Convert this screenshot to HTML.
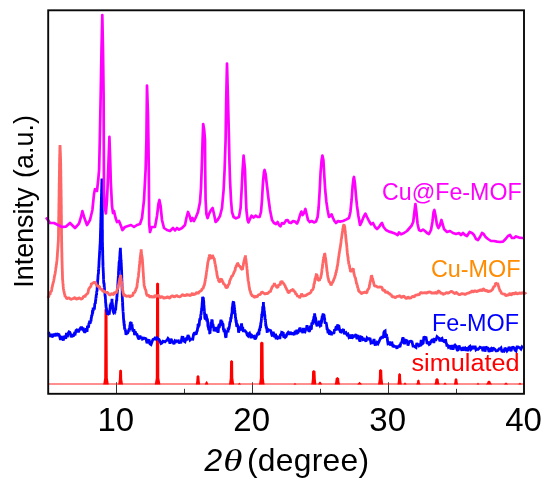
<!DOCTYPE html>
<html lang="en"><head><meta charset="utf-8"><title>XRD patterns</title>
<style>html,body{margin:0;padding:0;background:#fff}body{width:550px;height:486px;overflow:hidden}svg{display:block}</style></head>
<body>
<svg width="550" height="486" viewBox="0 0 550 486">
<rect width="550" height="486" fill="#fff"/>
<path d="M116.5 393.8 V382.3 M252.5 393.8 V382.3 M388.5 393.8 V382.3 M184.5 393.8 V388.8 M320.5 393.8 V388.8 M456.5 393.8 V388.8" stroke="#333" stroke-width="1" fill="none"/>
<path d="M48.2 384.0 H524.0" stroke="#ff2020" stroke-width="1.2" fill="none"/>
<path d="M103.2 384.4 L104.2 378.0 L104.5 309.2 L106.0 308.0 L107.5 309.2 L107.8 378.0 L108.8 384.4 Z" fill="#ff0000"/>
<path d="M118.2 384.4 L118.9 378.9 L119.2 370.6 L120.6 369.4 L122.0 370.6 L122.2 378.9 L123.0 384.4 Z" fill="#ff0000"/>
<path d="M154.8 384.4 L155.8 378.0 L156.1 283.6 L157.6 282.4 L159.1 283.6 L159.3 378.0 L160.4 384.4 Z" fill="#ff0000"/>
<path d="M195.8 384.4 L196.3 380.9 L196.6 376.2 L198.0 375.0 L199.4 376.2 L199.7 380.9 L200.2 384.4 Z" fill="#ff0000"/>
<path d="M204.8 384.4 L205.4 382.9 L205.6 382.2 L206.6 381.0 L207.6 382.2 L207.8 382.9 L208.4 384.4 Z" fill="#ff0000"/>
<path d="M229.0 384.4 L229.8 378.0 L230.1 361.2 L231.6 360.0 L233.1 361.2 L233.3 378.0 L234.2 384.4 Z" fill="#ff0000"/>
<path d="M237.9 384.4 L238.4 383.5 L238.6 383.8 L239.4 382.6 L240.2 383.8 L240.4 383.5 L240.9 384.4 Z" fill="#ff0000"/>
<path d="M259.0 384.4 L259.9 378.0 L260.1 342.8 L261.8 341.6 L263.5 342.8 L263.8 378.0 L264.6 384.4 Z" fill="#ff0000"/>
<path d="M293.6 384.4 L294.2 383.6 L294.3 384.0 L295.0 382.8 L295.7 384.0 L295.8 383.6 L296.4 384.4 Z" fill="#ff0000"/>
<path d="M311.2 384.4 L311.9 379.1 L312.1 371.2 L313.8 370.0 L315.5 371.2 L315.8 379.1 L316.4 384.4 Z" fill="#ff0000"/>
<path d="M318.0 384.4 L318.7 383.1 L318.9 382.6 L320.0 381.4 L321.1 382.6 L321.3 383.1 L322.0 384.4 Z" fill="#ff0000"/>
<path d="M334.8 384.4 L335.3 381.6 L335.7 378.2 L337.4 377.0 L339.1 378.2 L339.4 381.6 L340.0 384.4 Z" fill="#ff0000"/>
<path d="M357.2 384.4 L358.2 383.2 L358.4 383.0 L359.6 381.8 L360.8 383.0 L361.0 383.2 L362.0 384.4 Z" fill="#ff0000"/>
<path d="M378.0 384.4 L378.8 378.8 L379.0 370.2 L380.6 369.0 L382.2 370.2 L382.5 378.8 L383.2 384.4 Z" fill="#ff0000"/>
<path d="M397.4 384.4 L398.0 380.1 L398.2 374.2 L399.6 373.0 L401.0 374.2 L401.2 380.1 L401.8 384.4 Z" fill="#ff0000"/>
<path d="M403.4 384.4 L404.0 383.4 L404.1 383.5 L405.0 382.3 L405.9 383.5 L406.0 383.4 L406.6 384.4 Z" fill="#ff0000"/>
<path d="M416.2 384.4 L417.0 382.4 L417.2 380.6 L418.4 379.4 L419.6 380.6 L419.8 382.4 L420.6 384.4 Z" fill="#ff0000"/>
<path d="M434.4 384.4 L435.1 381.9 L435.4 379.2 L437.0 378.0 L438.6 379.2 L438.9 381.9 L439.6 384.4 Z" fill="#ff0000"/>
<path d="M443.4 384.4 L444.0 383.4 L444.1 383.5 L445.0 382.3 L445.9 383.5 L446.0 383.4 L446.6 384.4 Z" fill="#ff0000"/>
<path d="M453.9 384.4 L454.4 381.9 L454.7 379.2 L456.0 378.0 L457.3 379.2 L457.6 381.9 L458.1 384.4 Z" fill="#ff0000"/>
<path d="M476.6 384.4 L477.2 383.5 L477.3 383.8 L478.0 382.6 L478.7 383.8 L478.8 383.5 L479.4 384.4 Z" fill="#ff0000"/>
<path d="M486.0 384.4 L487.2 382.7 L487.5 381.6 L489.0 380.4 L490.5 381.6 L490.8 382.7 L492.0 384.4 Z" fill="#ff0000"/>
<path d="M504.0 384.4 L504.8 383.4 L505.0 383.4 L506.0 382.2 L507.0 383.4 L507.2 383.4 L508.0 384.4 Z" fill="#ff0000"/>
<path d="M518.4 384.4 L519.0 383.5 L519.1 383.8 L520.0 382.6 L520.9 383.8 L521.0 383.5 L521.6 384.4 Z" fill="#ff0000"/>
<path d="M48.0 334.0 L49.0 333.5 L50.0 336.9 L51.0 334.0 L52.0 337.2 L53.0 336.0 L54.0 333.9 L55.0 336.3 L56.0 333.3 L57.0 335.9 L58.0 334.2 L59.0 334.6 L59.8 337.1 L60.5 339.9 L61.2 336.3 L62.0 337.4 L62.7 339.1 L63.3 340.3 L64.0 337.4 L64.8 335.9 L65.7 338.8 L66.5 332.9 L67.3 337.1 L68.2 333.3 L69.0 331.9 L69.8 332.3 L70.5 333.9 L71.2 337.3 L72.0 334.1 L72.8 335.9 L73.6 335.6 L74.4 333.5 L75.2 333.9 L76.0 330.5 L76.8 329.8 L77.6 330.1 L78.4 332.2 L79.2 330.2 L80.0 328.9 L80.5 329.7 L81.0 328.2 L81.5 326.6 L82.0 328.7 L82.5 329.2 L83.0 327.5 L83.5 330.4 L84.0 331.1 L84.8 332.7 L85.5 331.3 L86.2 328.3 L87.0 331.8 L87.5 325.8 L88.0 326.5 L88.5 327.5 L89.0 323.0 L89.3 324.0 L89.7 320.6 L90.0 323.2 L90.3 322.8 L90.7 320.8 L91.0 321.4 L91.2 317.8 L91.3 318.5 L91.5 317.1 L91.7 316.1 L91.9 314.6 L92.1 315.3 L92.2 314.9 L92.4 311.9 L92.8 312.0 L93.2 307.5 L93.6 310.2 L94.0 308.8 L94.3 309.5 L94.5 307.6 L94.8 303.9 L95.1 303.4 L95.3 303.9 L95.6 299.9 L95.7 300.9 L95.8 299.0 L95.9 297.9 L96.0 296.8 L96.1 298.3 L96.2 295.2 L96.4 294.7 L96.5 294.2 L96.6 294.9 L96.7 291.4 L96.8 291.7 L96.9 291.1 L97.0 291.2 L97.1 289.9 L97.1 289.1 L97.2 286.7 L97.3 286.1 L97.4 285.1 L97.4 285.6 L97.5 284.8 L97.6 281.8 L97.7 281.0 L97.7 280.2 L97.8 279.3 L97.9 279.1 L97.9 278.4 L98.0 276.6 L98.1 275.1 L98.2 275.2 L98.2 274.2 L98.3 273.8 L98.4 273.9 L98.5 272.3 L98.5 270.9 L98.6 270.3 L98.7 269.5 L98.7 267.2 L98.8 268.1 L98.8 267.0 L98.9 266.3 L98.9 265.2 L99.0 263.4 L99.0 262.5 L99.1 261.0 L99.1 261.2 L99.2 259.1 L99.3 258.2 L99.3 257.6 L99.4 256.5 L99.4 256.0 L99.5 254.5 L99.5 253.5 L99.6 252.9 L99.6 251.9 L99.7 251.5 L99.7 249.9 L99.8 250.8 L99.8 249.3 L99.9 247.5 L99.9 246.8 L100.0 246.1 L100.0 245.2 L100.1 243.8 L100.1 244.3 L100.2 243.6 L100.2 241.8 L100.3 240.9 L100.3 239.4 L100.3 238.6 L100.4 238.0 L100.4 236.9 L100.4 236.7 L100.4 235.0 L100.5 233.9 L100.5 234.0 L100.5 232.6 L100.5 231.3 L100.6 230.8 L100.6 229.3 L100.6 228.9 L100.6 228.5 L100.7 227.5 L100.7 226.3 L100.7 224.9 L100.7 224.1 L100.8 222.9 L100.8 222.7 L100.8 221.5 L100.8 220.9 L100.9 219.4 L100.9 218.4 L100.9 218.1 L100.9 217.4 L101.0 216.3 L101.0 215.3 L101.0 214.4 L101.0 213.4 L101.1 212.0 L101.1 211.4 L101.1 210.3 L101.1 209.0 L101.2 208.1 L101.2 207.5 L101.2 206.6 L101.2 206.1 L101.2 205.5 L101.3 204.0 L101.3 203.6 L101.3 202.8 L101.3 201.8 L101.4 200.3 L101.4 199.3 L101.4 198.3 L101.4 197.4 L101.5 196.5 L101.5 196.0 L101.5 195.4 L101.5 194.5 L101.6 193.1 L101.6 192.4 L101.6 191.7 L101.6 189.9 L101.7 189.7 L101.7 189.1 L101.7 188.0 L101.7 187.1 L101.8 185.8 L101.8 184.5 L101.8 184.4 L101.8 182.9 L101.9 182.5 L101.9 181.8 L101.9 180.2 L101.9 179.3 L102.0 179.0 L102.0 178.9 L102.0 178.4 L102.0 179.3 L102.0 180.3 L102.0 181.5 L102.0 182.4 L102.0 183.1 L102.1 184.3 L102.1 185.3 L102.1 186.1 L102.1 186.9 L102.1 187.9 L102.1 188.6 L102.1 189.5 L102.1 190.9 L102.1 191.7 L102.1 192.5 L102.1 193.6 L102.2 194.4 L102.2 195.5 L102.2 196.4 L102.2 197.1 L102.2 198.0 L102.2 199.0 L102.2 199.9 L102.2 200.9 L102.2 201.8 L102.2 202.7 L102.2 203.5 L102.2 204.6 L102.2 205.4 L102.2 206.4 L102.2 207.3 L102.2 208.3 L102.2 209.1 L102.2 210.1 L102.3 210.9 L102.3 211.8 L102.3 212.7 L102.3 213.5 L102.3 214.5 L102.3 215.4 L102.3 216.2 L102.3 217.3 L102.3 218.1 L102.3 219.1 L102.3 220.1 L102.3 220.9 L102.3 221.8 L102.3 222.7 L102.3 223.6 L102.3 224.6 L102.3 225.4 L102.3 226.4 L102.3 227.2 L102.3 228.1 L102.3 229.2 L102.4 230.0 L102.4 230.9 L102.4 231.9 L102.4 232.8 L102.4 233.6 L102.4 234.6 L102.4 235.5 L102.4 236.4 L102.4 237.3 L102.4 238.2 L102.4 239.1 L102.4 240.0 L102.4 241.3 L102.4 242.0 L102.5 243.1 L102.5 244.1 L102.5 244.4 L102.5 245.6 L102.5 246.8 L102.6 247.7 L102.6 247.9 L102.6 248.8 L102.6 250.0 L102.7 250.6 L102.7 251.7 L102.7 252.4 L102.7 253.9 L102.7 254.9 L102.8 256.0 L102.8 256.2 L102.8 257.6 L102.8 258.5 L102.8 258.9 L102.9 260.5 L102.9 261.5 L102.9 261.6 L102.9 263.6 L103.0 263.6 L103.0 264.7 L103.0 266.4 L103.1 267.0 L103.1 266.9 L103.1 268.2 L103.2 269.2 L103.2 269.9 L103.2 270.5 L103.3 271.6 L103.3 273.1 L103.4 273.0 L103.4 274.7 L103.4 275.4 L103.5 275.7 L103.5 277.0 L103.5 278.4 L103.6 279.1 L103.6 279.0 L103.7 282.4 L103.8 282.7 L103.9 284.2 L104.0 282.5 L104.1 283.9 L104.2 284.1 L104.2 287.3 L104.3 286.7 L104.4 287.2 L104.5 289.0 L104.6 291.4 L104.7 292.1 L104.8 291.3 L104.9 292.0 L105.0 295.0 L105.0 295.0 L105.1 296.3 L105.2 295.5 L105.3 296.4 L105.4 299.1 L105.4 299.3 L105.5 299.2 L105.6 302.5 L105.7 302.6 L105.8 304.0 L105.8 303.0 L105.9 306.1 L106.0 304.5 L106.1 308.3 L106.3 307.7 L106.4 308.1 L106.6 309.9 L106.7 312.3 L106.8 310.6 L107.0 311.0 L107.1 313.4 L107.3 313.2 L107.4 313.6 L107.6 314.8 L107.7 314.4 L108.1 314.3 L108.5 313.9 L108.8 312.9 L109.2 314.5 L109.6 310.9 L109.8 311.1 L109.9 308.9 L110.1 308.7 L110.2 306.4 L110.4 306.5 L110.5 304.6 L110.7 306.8 L110.8 305.1 L111.0 302.5 L111.3 302.9 L111.7 304.4 L112.0 298.7 L112.1 303.1 L112.2 302.6 L112.4 303.7 L112.5 305.8 L112.6 305.1 L112.7 306.4 L112.8 308.0 L113.0 309.9 L113.1 308.5 L113.2 311.4 L113.4 312.0 L113.7 312.7 L113.9 312.5 L114.2 313.3 L114.4 312.4 L114.6 312.5 L114.7 311.4 L114.9 313.3 L115.0 310.4 L115.2 309.1 L115.4 307.8 L115.5 310.1 L115.7 309.4 L115.8 307.6 L116.0 305.2 L116.1 304.3 L116.2 303.5 L116.3 303.1 L116.4 301.2 L116.5 301.1 L116.6 299.6 L116.7 300.8 L116.8 299.9 L116.8 297.7 L116.9 295.8 L117.0 297.1 L117.1 294.1 L117.2 293.3 L117.3 291.3 L117.4 291.5 L117.5 290.9 L117.6 290.0 L117.6 288.5 L117.7 288.2 L117.8 286.2 L117.8 285.8 L117.8 284.5 L117.9 284.2 L117.9 282.6 L118.0 281.6 L118.0 281.3 L118.1 280.2 L118.1 280.0 L118.2 278.9 L118.2 278.4 L118.3 277.3 L118.3 276.5 L118.4 275.9 L118.5 274.0 L118.5 272.9 L118.5 273.3 L118.6 270.7 L118.7 270.9 L118.7 269.9 L118.8 267.7 L118.8 268.4 L118.8 267.6 L118.9 266.1 L119.0 265.4 L119.0 264.8 L119.1 262.0 L119.2 262.2 L119.3 261.2 L119.4 261.3 L119.5 260.3 L119.6 259.4 L119.7 257.7 L119.7 257.7 L119.8 256.2 L119.9 255.3 L120.0 252.9 L120.1 251.4 L120.2 250.7 L120.3 250.5 L120.4 247.7 L120.5 251.6 L120.5 251.9 L120.6 253.0 L120.6 253.9 L120.7 254.9 L120.7 255.4 L120.8 255.3 L120.8 257.9 L120.9 258.7 L120.9 259.1 L121.0 260.1 L121.1 261.3 L121.1 260.9 L121.2 263.2 L121.2 263.1 L121.3 263.6 L121.3 265.0 L121.4 266.9 L121.4 266.6 L121.5 268.7 L121.5 270.1 L121.6 270.0 L121.6 270.8 L121.6 271.8 L121.7 272.9 L121.7 273.9 L121.7 274.7 L121.7 275.6 L121.8 275.9 L121.8 276.9 L121.8 277.9 L121.8 279.4 L121.9 279.8 L121.9 281.0 L121.9 281.3 L121.9 282.2 L122.0 283.4 L122.0 284.7 L122.0 285.7 L122.0 286.6 L122.1 287.0 L122.1 288.2 L122.1 289.1 L122.1 290.0 L122.2 290.5 L122.2 292.3 L122.2 292.4 L122.2 294.2 L122.3 295.0 L122.3 294.9 L122.3 296.3 L122.3 297.6 L122.4 298.7 L122.4 299.0 L122.4 299.6 L122.5 300.3 L122.5 302.8 L122.6 302.1 L122.6 303.8 L122.7 303.8 L122.7 305.5 L122.8 307.3 L122.8 306.5 L122.9 308.9 L122.9 309.1 L123.0 310.8 L123.1 311.3 L123.1 311.2 L123.2 313.6 L123.2 313.6 L123.3 313.5 L123.3 314.4 L123.4 316.3 L123.4 317.2 L123.5 317.8 L123.5 318.3 L123.6 319.5 L123.7 320.2 L123.9 323.1 L124.0 320.9 L124.1 324.6 L124.2 325.8 L124.4 324.0 L124.5 328.0 L124.6 328.1 L124.7 329.7 L124.9 328.3 L125.0 329.3 L125.5 330.4 L126.0 334.9 L126.5 333.5 L127.0 333.2 L127.7 332.9 L128.3 331.4 L129.0 329.4 L129.2 329.4 L129.3 331.5 L129.5 328.2 L129.7 330.0 L129.8 326.2 L130.0 325.3 L130.2 325.3 L130.3 323.0 L130.5 322.8 L130.7 324.3 L130.8 323.1 L131.0 322.3 L131.2 322.0 L131.3 324.2 L131.5 325.2 L131.7 324.5 L131.9 326.1 L132.1 324.2 L132.2 328.1 L132.4 327.7 L132.8 330.5 L133.2 330.8 L133.6 329.8 L134.0 329.4 L134.6 335.2 L135.2 331.2 L135.8 333.9 L136.4 333.9 L137.0 334.3 L138.0 337.4 L139.0 339.3 L140.0 335.6 L140.8 338.5 L141.6 337.0 L142.4 339.1 L143.2 338.8 L144.0 338.1 L145.0 338.3 L146.0 338.8 L147.0 343.1 L148.0 341.0 L149.0 339.6 L150.0 343.9 L151.0 344.6 L152.0 341.7 L153.0 339.4 L154.0 339.2 L155.0 338.1 L156.0 339.1 L157.0 337.9 L158.0 339.0 L159.0 339.3 L160.0 341.4 L161.0 343.5 L162.0 342.9 L163.0 341.2 L164.0 341.5 L165.0 341.9 L166.0 340.8 L167.0 340.3 L168.0 338.5 L169.0 339.7 L170.0 343.7 L171.0 338.8 L172.0 341.0 L173.0 342.3 L174.0 344.1 L175.0 340.9 L176.0 341.7 L176.8 340.9 L177.6 341.2 L178.4 340.9 L179.2 343.2 L180.0 342.0 L181.0 342.2 L182.0 337.2 L183.0 337.3 L184.0 341.2 L185.0 341.8 L186.0 338.8 L187.0 339.0 L188.0 335.1 L189.0 337.1 L190.0 340.0 L191.0 339.1 L192.0 339.1 L192.8 339.2 L193.5 334.5 L194.2 333.2 L195.0 333.0 L195.4 334.1 L195.8 334.1 L196.2 334.6 L196.6 332.3 L197.0 330.8 L197.3 330.6 L197.6 328.1 L197.9 327.7 L198.1 324.1 L198.4 327.3 L198.7 323.4 L199.0 326.2 L199.3 323.7 L199.5 321.0 L199.8 319.1 L200.1 318.7 L200.3 319.7 L200.6 318.9 L200.7 315.6 L200.8 314.5 L201.0 315.1 L201.1 314.3 L201.2 312.6 L201.3 311.0 L201.5 311.4 L201.6 308.4 L201.7 308.5 L201.8 308.1 L201.8 308.6 L201.9 306.7 L202.0 306.5 L202.1 304.4 L202.2 302.8 L202.3 301.9 L202.3 303.1 L202.4 301.4 L202.5 299.4 L202.6 296.9 L202.9 298.0 L203.2 298.0 L203.3 297.7 L203.4 298.1 L203.4 300.2 L203.5 301.8 L203.6 300.7 L203.7 301.1 L203.8 302.8 L203.8 304.0 L203.9 305.6 L204.0 305.2 L204.1 307.7 L204.1 308.4 L204.2 308.8 L204.3 309.0 L204.3 311.8 L204.4 311.1 L204.5 313.3 L204.5 312.8 L204.6 313.7 L204.7 316.0 L204.7 315.8 L204.8 318.3 L204.9 318.1 L204.9 318.3 L205.0 318.4 L205.2 318.6 L205.5 318.8 L205.8 319.2 L206.0 313.9 L206.2 316.5 L206.5 316.6 L206.8 321.3 L207.0 318.3 L207.2 318.9 L207.5 319.9 L207.7 322.5 L207.9 325.9 L208.2 326.8 L208.4 327.1 L208.7 329.5 L208.9 330.2 L209.2 328.1 L209.5 328.4 L209.7 333.2 L210.0 333.4 L210.2 329.2 L210.3 330.6 L210.4 328.5 L210.6 327.5 L210.8 326.3 L210.9 324.7 L211.0 323.1 L211.2 323.1 L211.4 322.3 L211.6 324.0 L211.8 319.3 L212.0 322.7 L212.2 319.8 L212.3 321.4 L212.5 324.3 L212.7 325.3 L212.8 324.7 L213.0 323.8 L213.3 326.9 L213.7 327.3 L214.1 331.3 L214.4 328.2 L215.2 328.7 L216.0 331.3 L216.7 326.9 L217.3 329.8 L218.0 332.8 L218.3 331.3 L218.5 326.7 L218.8 325.7 L219.1 324.8 L219.3 328.1 L219.6 323.7 L220.0 325.4 L220.3 325.2 L220.7 321.1 L221.0 319.7 L221.4 322.7 L221.7 321.6 L221.9 320.8 L222.2 324.1 L222.5 323.1 L222.7 323.9 L223.0 323.5 L223.3 328.3 L223.5 330.1 L223.8 329.7 L224.1 332.2 L224.3 328.6 L224.6 330.5 L225.1 332.9 L225.5 336.6 L226.0 337.6 L226.4 333.3 L226.8 331.6 L227.2 331.6 L227.6 331.0 L228.0 332.4 L228.2 327.5 L228.5 329.8 L228.8 328.6 L229.0 328.2 L229.2 327.0 L229.5 325.3 L229.8 323.0 L230.0 322.1 L230.2 321.3 L230.5 322.3 L230.7 318.0 L230.9 317.6 L231.1 319.2 L231.4 315.8 L231.6 314.2 L231.7 313.7 L231.8 314.3 L231.9 312.7 L232.0 313.8 L232.1 312.6 L232.1 312.0 L232.2 308.9 L232.3 307.5 L232.4 306.6 L232.5 306.9 L232.6 306.7 L232.7 304.8 L232.9 303.0 L233.0 302.7 L233.1 302.4 L233.3 301.6 L233.4 301.4 L233.5 302.2 L233.7 302.6 L233.8 301.7 L233.9 305.2 L234.0 304.3 L234.2 306.2 L234.3 306.6 L234.4 308.8 L234.5 307.9 L234.6 309.0 L234.7 309.9 L234.8 310.5 L234.9 313.9 L235.1 313.7 L235.2 313.8 L235.3 314.9 L235.4 317.9 L235.5 317.1 L235.6 317.0 L235.8 320.2 L235.9 320.4 L236.1 322.7 L236.2 319.9 L236.4 322.3 L236.5 324.7 L236.7 325.6 L236.8 326.8 L237.0 323.6 L237.4 325.8 L237.8 325.8 L238.2 327.2 L238.6 332.7 L239.3 329.5 L240.0 330.5 L240.5 326.3 L240.9 328.1 L241.4 324.7 L241.7 324.7 L242.0 328.5 L242.4 330.4 L242.7 326.9 L243.0 330.6 L243.5 331.4 L244.0 329.9 L244.5 331.5 L245.0 330.9 L245.8 331.8 L246.5 332.6 L247.2 335.1 L248.0 335.9 L248.8 333.8 L249.5 333.2 L250.2 335.5 L251.0 338.0 L252.0 335.5 L253.0 336.6 L254.0 336.3 L255.0 339.4 L256.0 337.6 L257.0 334.5 L257.5 333.7 L258.0 334.4 L258.5 334.3 L259.0 333.8 L259.2 330.1 L259.5 329.4 L259.7 330.9 L259.9 328.6 L260.1 327.0 L260.4 326.1 L260.6 327.9 L260.7 324.4 L260.8 324.4 L260.9 322.8 L261.0 322.0 L261.1 322.6 L261.2 322.1 L261.4 319.1 L261.5 317.6 L261.6 318.5 L261.7 315.8 L261.8 314.2 L261.9 316.3 L262.0 313.7 L262.1 314.3 L262.3 311.7 L262.4 312.6 L262.6 310.0 L262.7 307.9 L262.8 306.4 L263.0 307.5 L263.1 306.9 L263.3 306.9 L263.4 302.0 L263.5 305.8 L263.6 305.9 L263.8 307.3 L263.9 307.0 L264.0 308.4 L264.1 310.2 L264.2 312.6 L264.4 310.7 L264.5 313.0 L264.6 315.0 L264.7 316.5 L264.8 314.8 L264.9 315.5 L265.0 319.2 L265.1 320.2 L265.2 319.5 L265.4 319.0 L265.5 322.8 L265.6 321.9 L265.7 324.6 L265.8 324.6 L265.9 326.2 L266.0 324.5 L266.3 328.4 L266.5 326.6 L266.8 328.5 L267.1 331.7 L267.3 332.7 L267.6 330.2 L268.3 329.7 L268.9 330.1 L269.6 330.1 L270.1 330.3 L270.5 329.8 L271.0 331.5 L271.8 334.8 L272.5 336.3 L273.2 331.8 L274.0 335.4 L274.8 337.2 L275.5 333.8 L276.2 339.2 L277.0 335.8 L278.0 338.2 L279.0 337.6 L280.0 337.7 L280.4 334.9 L280.8 334.5 L281.2 334.5 L281.6 332.6 L282.0 332.9 L282.4 332.7 L282.8 333.6 L283.2 332.2 L283.6 336.7 L284.0 336.9 L284.8 334.7 L285.5 337.0 L286.2 336.4 L287.0 333.8 L288.0 332.5 L289.0 334.5 L290.0 332.7 L291.0 332.8 L292.0 334.6 L293.0 332.6 L293.8 334.2 L294.5 334.1 L295.2 330.8 L296.0 333.8 L296.8 329.8 L297.5 332.9 L298.2 332.4 L299.0 330.1 L300.0 327.7 L301.0 330.7 L302.0 330.3 L302.8 333.1 L303.5 327.9 L304.2 331.6 L305.0 331.9 L305.7 329.7 L306.3 329.5 L307.0 325.2 L307.7 330.5 L308.3 328.3 L309.0 331.6 L309.7 330.7 L310.3 325.7 L311.0 328.7 L311.4 328.5 L311.8 322.5 L312.2 323.1 L312.6 324.5 L313.0 320.2 L313.2 322.9 L313.5 318.9 L313.7 320.5 L313.9 316.3 L314.1 317.0 L314.4 318.0 L314.6 313.3 L314.8 314.9 L315.0 317.0 L315.2 317.2 L315.4 316.9 L315.6 318.6 L315.8 319.5 L316.0 324.5 L316.5 324.0 L317.1 326.3 L317.6 323.1 L318.3 325.7 L319.0 320.8 L319.5 324.2 L320.1 325.8 L320.6 325.2 L320.8 326.7 L320.9 324.5 L321.1 323.7 L321.2 324.0 L321.4 319.9 L321.5 322.7 L321.7 320.3 L321.8 318.4 L322.0 319.4 L322.2 315.9 L322.5 318.7 L322.7 315.8 L323.0 313.8 L323.2 315.1 L323.4 314.2 L323.7 313.8 L323.9 317.5 L324.1 314.9 L324.4 319.7 L324.6 317.8 L324.8 320.7 L325.1 323.3 L325.3 322.4 L325.5 323.8 L325.8 323.1 L326.0 322.5 L326.3 323.5 L326.6 325.1 L327.0 328.6 L327.3 328.6 L327.6 330.1 L328.1 333.3 L328.6 329.9 L329.1 331.4 L329.6 334.9 L330.3 331.9 L330.9 332.4 L331.6 335.2 L332.1 333.0 L332.6 333.7 L333.1 332.2 L333.6 333.5 L334.1 332.5 L334.6 329.3 L335.1 330.7 L335.6 328.9 L336.3 326.2 L336.9 330.2 L337.6 325.5 L338.3 325.6 L338.9 326.0 L339.6 329.8 L340.4 331.8 L341.2 332.0 L342.0 330.4 L342.8 330.1 L343.5 329.2 L344.2 333.3 L345.0 333.4 L346.0 332.6 L347.0 334.8 L348.0 334.2 L349.0 337.5 L349.8 336.9 L350.5 334.5 L351.2 338.8 L352.0 334.4 L353.0 337.2 L354.0 336.5 L355.0 335.5 L356.0 334.4 L357.0 339.1 L358.0 335.2 L359.0 338.8 L360.0 341.6 L361.0 336.9 L362.0 337.3 L363.0 339.6 L364.0 339.0 L365.0 340.1 L366.0 341.3 L367.0 337.9 L368.0 338.9 L369.0 339.1 L370.0 337.9 L371.0 343.0 L372.0 342.6 L373.0 342.7 L374.0 339.1 L375.0 344.5 L376.0 344.4 L377.0 342.5 L378.0 343.7 L379.0 341.7 L379.8 339.7 L380.5 338.2 L381.2 338.2 L382.0 336.3 L382.3 337.1 L382.6 338.3 L383.0 337.1 L383.3 336.9 L383.6 335.1 L383.9 331.8 L384.1 332.3 L384.4 330.7 L384.6 331.7 L384.8 331.1 L385.1 330.9 L385.3 333.7 L385.5 336.2 L385.8 333.6 L386.0 338.0 L386.4 334.2 L386.8 336.6 L387.2 337.5 L387.6 341.4 L388.0 343.6 L388.8 343.2 L389.5 341.5 L390.2 345.5 L391.0 343.0 L392.0 342.8 L393.0 347.0 L394.0 345.8 L395.0 346.4 L396.0 346.5 L397.0 348.5 L398.0 345.8 L398.8 347.2 L399.5 345.6 L400.2 345.8 L401.0 342.6 L401.5 343.3 L402.0 341.4 L402.5 338.9 L403.0 337.3 L403.5 340.7 L404.0 338.6 L404.5 344.4 L405.0 340.9 L406.0 340.3 L407.0 340.7 L408.0 345.5 L409.0 342.1 L410.0 341.4 L411.0 341.3 L412.0 341.8 L413.0 346.1 L414.0 346.1 L415.0 346.8 L416.0 347.4 L416.8 343.0 L417.5 345.5 L418.2 343.7 L419.0 345.8 L419.8 345.4 L420.5 345.3 L421.2 340.0 L422.0 344.1 L422.6 343.7 L423.2 343.1 L423.8 337.5 L424.4 337.3 L425.3 337.4 L426.1 337.6 L427.0 343.0 L427.8 343.3 L428.5 342.8 L429.2 344.4 L430.0 343.8 L431.0 341.4 L432.0 340.0 L433.0 339.7 L433.8 343.0 L434.5 339.3 L435.2 339.5 L436.0 339.6 L437.0 336.7 L438.0 337.6 L439.0 338.2 L440.0 341.3 L441.0 338.9 L442.0 338.3 L443.0 341.7 L443.7 339.7 L444.3 342.4 L445.0 341.7 L445.5 339.3 L446.0 342.5 L446.5 343.6 L447.0 346.6 L447.8 344.6 L448.5 347.2 L449.2 346.7 L450.0 345.4 L451.0 349.4 L452.0 345.1 L453.0 349.6 L454.0 346.1 L455.0 345.1 L456.0 346.3 L457.0 349.5 L458.0 350.8 L459.0 345.4 L460.0 348.4 L461.0 348.7 L462.0 350.7 L463.0 347.2 L464.0 349.0 L465.0 348.1 L466.0 350.9 L467.0 347.4 L468.0 351.1 L469.0 347.0 L470.0 346.3 L471.0 349.3 L472.0 348.2 L473.0 346.0 L474.0 349.2 L475.0 345.8 L476.0 349.7 L477.0 348.9 L478.0 349.3 L479.0 348.5 L480.0 347.2 L481.0 347.6 L482.0 347.8 L483.0 351.0 L484.0 346.6 L485.0 351.6 L486.0 346.8 L487.0 347.9 L488.0 348.2 L489.0 351.9 L490.0 349.6 L491.0 348.7 L492.0 351.5 L493.0 347.6 L494.0 348.8 L495.0 349.3 L496.0 350.8 L497.0 350.9 L498.0 350.4 L499.0 348.8 L500.0 348.8 L501.0 347.9 L502.0 352.0 L503.0 350.8 L504.0 351.2 L505.0 347.8 L506.0 349.2 L507.0 351.0 L508.0 349.8 L509.0 347.0 L510.0 348.8 L511.0 351.2 L512.0 347.5 L513.0 347.2 L514.0 347.8 L515.0 350.2 L516.0 351.0 L517.0 347.0 L518.0 347.0 L519.0 347.5 L520.0 348.0 L521.0 349.1 L522.0 347.0 L523.0 348.0" stroke="#0000ff" stroke-width="2.8" fill="none" stroke-linejoin="miter" stroke-miterlimit="2" stroke-linecap="butt"/>
<path d="M48.0 296.2 L48.5 297.4 L49.0 295.9 L49.5 293.5 L50.0 294.8 L50.5 291.8 L51.0 291.7 L51.2 292.1 L51.4 290.8 L51.7 289.8 L51.9 288.3 L52.1 286.9 L52.3 287.0 L52.6 284.9 L52.8 284.3 L53.0 283.8 L53.2 282.2 L53.4 282.0 L53.5 281.8 L53.7 280.7 L53.9 279.5 L54.1 278.8 L54.3 277.6 L54.5 276.0 L54.6 276.0 L54.8 274.7 L55.0 274.4 L55.1 273.7 L55.3 272.0 L55.4 271.3 L55.5 270.7 L55.7 269.2 L55.8 268.0 L55.9 267.8 L56.1 267.2 L56.2 266.0 L56.3 265.0 L56.5 264.3 L56.6 263.1 L56.7 262.1 L56.9 260.9 L57.0 259.7 L57.1 259.2 L57.1 257.8 L57.2 257.2 L57.3 256.7 L57.3 255.7 L57.4 254.7 L57.4 253.4 L57.5 252.6 L57.6 251.8 L57.6 251.0 L57.7 249.9 L57.8 249.3 L57.8 248.6 L57.9 246.9 L58.0 246.5 L58.0 245.7 L58.1 244.4 L58.1 243.6 L58.2 243.2 L58.3 241.3 L58.3 241.0 L58.4 239.8 L58.4 239.2 L58.4 238.3 L58.4 237.3 L58.5 236.2 L58.5 235.5 L58.5 234.6 L58.5 233.7 L58.5 232.7 L58.5 231.9 L58.5 231.0 L58.5 230.0 L58.6 229.1 L58.6 228.3 L58.6 227.2 L58.6 226.4 L58.6 225.4 L58.6 224.6 L58.6 223.5 L58.7 222.9 L58.7 221.8 L58.7 220.8 L58.7 219.9 L58.7 219.1 L58.7 218.0 L58.7 217.2 L58.8 216.3 L58.8 215.5 L58.8 214.5 L58.8 213.6 L58.8 212.6 L58.8 211.9 L58.8 211.0 L58.9 210.0 L58.9 209.0 L58.9 208.3 L58.9 207.2 L58.9 206.3 L58.9 205.3 L58.9 204.6 L58.9 203.7 L59.0 202.8 L59.0 201.8 L59.0 200.9 L59.0 199.9 L59.0 199.2 L59.0 198.1 L59.0 197.3 L59.1 196.5 L59.1 195.5 L59.1 194.5 L59.1 193.6 L59.1 192.7 L59.1 191.7 L59.1 191.0 L59.1 190.0 L59.2 189.2 L59.2 188.1 L59.2 187.2 L59.2 186.3 L59.2 185.4 L59.2 184.5 L59.2 183.5 L59.3 182.8 L59.3 181.8 L59.3 180.8 L59.3 179.9 L59.3 179.1 L59.3 178.2 L59.3 177.3 L59.4 176.4 L59.4 175.4 L59.4 174.7 L59.4 173.7 L59.4 172.6 L59.4 171.9 L59.4 171.0 L59.5 170.1 L59.5 169.0 L59.5 168.3 L59.5 167.3 L59.5 166.2 L59.5 165.3 L59.5 164.7 L59.5 163.7 L59.6 162.7 L59.6 161.7 L59.6 160.8 L59.6 159.9 L59.6 159.2 L59.6 158.1 L59.7 157.1 L59.7 156.5 L59.7 155.5 L59.7 154.3 L59.8 153.8 L59.8 152.7 L59.8 151.9 L59.8 150.9 L59.9 150.1 L59.9 149.1 L59.9 148.2 L59.9 147.0 L60.0 146.3 L60.0 145.3 L60.0 145.0 L60.0 145.3 L60.1 146.5 L60.1 147.2 L60.1 147.9 L60.2 148.8 L60.2 149.7 L60.2 150.8 L60.3 151.5 L60.3 152.6 L60.4 153.3 L60.4 154.5 L60.4 155.4 L60.5 156.4 L60.5 157.5 L60.5 157.8 L60.6 159.3 L60.6 160.0 L60.6 160.9 L60.6 161.9 L60.6 162.8 L60.7 163.6 L60.7 164.5 L60.7 165.6 L60.7 166.2 L60.7 167.3 L60.7 168.2 L60.7 169.0 L60.8 170.0 L60.8 171.0 L60.8 171.9 L60.8 172.7 L60.8 173.8 L60.8 174.5 L60.8 175.5 L60.8 176.5 L60.9 177.1 L60.9 178.2 L60.9 179.1 L60.9 180.0 L60.9 181.0 L60.9 181.8 L60.9 182.7 L61.0 183.6 L61.0 184.6 L61.0 185.4 L61.0 186.3 L61.0 187.3 L61.0 188.2 L61.0 189.2 L61.1 189.9 L61.1 191.0 L61.1 191.8 L61.1 192.7 L61.1 193.6 L61.1 194.5 L61.1 195.6 L61.1 196.4 L61.2 197.4 L61.2 198.1 L61.2 199.0 L61.2 200.0 L61.2 200.9 L61.2 201.8 L61.2 202.8 L61.2 203.5 L61.2 204.6 L61.3 205.5 L61.3 206.4 L61.3 207.2 L61.3 208.1 L61.3 209.0 L61.3 209.9 L61.3 211.0 L61.3 211.8 L61.3 212.8 L61.3 213.7 L61.3 214.6 L61.4 215.5 L61.4 216.4 L61.4 217.3 L61.4 218.2 L61.4 219.1 L61.4 220.0 L61.4 220.9 L61.4 221.9 L61.4 222.7 L61.4 223.7 L61.4 224.5 L61.5 225.4 L61.5 226.3 L61.5 227.3 L61.5 228.3 L61.5 229.1 L61.5 230.0 L61.5 231.0 L61.5 231.9 L61.5 232.7 L61.5 233.6 L61.5 234.5 L61.6 235.4 L61.6 236.3 L61.6 237.3 L61.6 238.2 L61.6 239.2 L61.6 239.9 L61.6 240.9 L61.6 241.6 L61.7 242.6 L61.7 243.8 L61.7 244.6 L61.7 245.6 L61.7 246.3 L61.7 247.1 L61.8 248.1 L61.8 249.1 L61.8 250.2 L61.8 251.1 L61.8 251.8 L61.9 252.7 L61.9 253.5 L61.9 254.6 L61.9 255.3 L61.9 256.2 L61.9 257.1 L62.0 258.0 L62.0 259.2 L62.0 259.8 L62.0 261.2 L62.1 261.6 L62.1 262.9 L62.1 263.4 L62.1 264.3 L62.2 265.6 L62.2 266.2 L62.2 267.4 L62.2 268.0 L62.3 268.9 L62.3 270.1 L62.3 271.0 L62.4 272.0 L62.4 272.8 L62.4 273.4 L62.4 274.6 L62.5 275.6 L62.5 276.3 L62.5 277.5 L62.5 278.1 L62.6 279.3 L62.6 280.2 L62.7 280.3 L62.8 281.2 L62.9 282.9 L63.0 284.1 L63.1 284.0 L63.1 285.2 L63.2 286.7 L63.3 286.8 L63.4 288.7 L63.5 289.1 L63.6 289.2 L63.8 290.7 L64.1 292.2 L64.3 292.9 L64.5 294.4 L64.8 294.3 L65.0 296.7 L65.7 296.5 L66.3 298.0 L67.0 298.7 L68.0 298.1 L69.0 297.8 L70.0 298.7 L71.0 299.3 L72.0 299.0 L73.0 298.6 L74.0 298.1 L75.0 297.4 L76.0 299.5 L77.0 298.7 L78.0 298.8 L79.0 297.6 L80.0 298.3 L81.0 299.2 L82.0 298.8 L82.8 297.8 L83.5 296.5 L84.2 296.3 L85.0 297.0 L85.6 294.9 L86.2 294.9 L86.8 293.9 L87.4 293.8 L88.0 292.8 L88.4 290.5 L88.8 288.8 L89.2 288.4 L89.6 287.8 L90.0 287.2 L90.5 286.8 L91.0 286.0 L91.5 282.9 L92.0 283.8 L92.8 283.1 L93.6 282.5 L94.6 282.5 L95.6 282.4 L96.2 284.6 L96.8 285.3 L97.4 285.7 L98.0 287.0 L98.8 286.4 L99.5 286.5 L100.2 288.4 L101.0 289.7 L101.8 288.8 L102.5 290.6 L103.2 291.6 L104.0 290.3 L104.8 291.8 L105.5 292.4 L106.2 292.4 L107.0 292.3 L108.0 292.9 L109.0 294.6 L110.0 295.1 L111.0 294.2 L112.0 293.1 L113.0 294.8 L113.8 294.2 L114.5 292.3 L115.2 292.7 L116.0 293.0 L116.5 292.0 L117.0 290.1 L117.5 288.9 L118.0 288.2 L118.2 286.5 L118.4 285.6 L118.5 284.7 L118.7 284.8 L118.9 283.3 L119.1 282.8 L119.2 281.6 L119.4 280.9 L119.6 279.3 L119.8 278.0 L120.1 279.1 L120.3 276.7 L120.6 275.0 L120.8 277.2 L120.9 278.5 L121.1 278.4 L121.3 280.2 L121.4 280.7 L121.6 282.0 L121.7 282.3 L121.8 283.3 L122.0 285.7 L122.1 286.6 L122.2 287.0 L122.3 288.1 L122.5 288.6 L122.6 290.5 L122.9 290.8 L123.2 293.0 L123.4 293.6 L123.7 294.7 L124.0 296.2 L124.7 295.1 L125.3 295.2 L126.0 296.3 L127.0 296.2 L128.0 296.0 L129.0 295.9 L129.8 296.6 L130.5 296.9 L131.2 295.4 L132.0 296.1 L132.8 295.3 L133.5 292.4 L134.2 293.0 L135.0 291.7 L135.3 290.2 L135.6 291.4 L135.9 288.9 L136.1 288.7 L136.4 288.0 L136.7 287.9 L137.0 286.3 L137.1 284.9 L137.2 284.1 L137.4 282.7 L137.5 283.0 L137.6 282.2 L137.7 280.0 L137.9 278.8 L138.0 278.2 L138.1 277.5 L138.2 277.4 L138.4 276.5 L138.5 275.4 L138.6 273.3 L138.7 273.4 L138.8 272.4 L138.9 271.4 L139.0 270.9 L139.1 268.7 L139.2 267.9 L139.3 267.8 L139.3 267.1 L139.4 265.8 L139.5 264.4 L139.6 263.9 L139.7 263.1 L139.8 261.3 L139.9 260.7 L140.0 259.7 L140.1 258.5 L140.2 258.1 L140.4 256.6 L140.5 255.8 L140.6 254.7 L140.7 254.6 L140.8 252.6 L141.0 252.7 L141.1 251.0 L141.2 249.3 L141.3 252.1 L141.4 252.0 L141.6 254.0 L141.7 254.9 L141.8 255.8 L141.9 255.7 L142.0 257.1 L142.2 257.5 L142.3 259.7 L142.4 260.4 L142.5 261.1 L142.5 261.8 L142.6 262.6 L142.6 264.0 L142.7 264.6 L142.8 265.7 L142.8 266.1 L142.9 267.1 L143.0 267.9 L143.0 269.4 L143.1 270.2 L143.1 270.7 L143.2 272.4 L143.3 272.7 L143.3 273.8 L143.4 274.4 L143.4 275.5 L143.5 277.0 L143.6 277.4 L143.6 278.1 L143.7 279.4 L143.8 280.1 L143.8 281.6 L143.9 281.8 L143.9 283.6 L144.0 283.3 L144.2 285.8 L144.4 286.3 L144.6 286.4 L144.8 288.0 L145.0 288.5 L145.4 289.4 L145.8 290.3 L146.1 291.7 L146.5 294.2 L147.0 295.2 L147.5 296.1 L148.0 295.0 L149.0 295.7 L150.0 297.5 L151.0 295.6 L152.0 297.6 L153.0 296.2 L154.0 297.7 L155.0 295.0 L156.0 296.8 L157.0 295.9 L158.0 295.6 L159.0 295.5 L160.0 297.8 L161.0 297.2 L162.0 296.5 L163.0 297.3 L164.0 298.7 L165.0 297.1 L166.0 298.2 L167.0 296.9 L168.0 296.9 L169.0 298.2 L170.0 297.9 L171.0 296.4 L172.0 295.9 L173.0 295.8 L174.0 297.0 L175.0 296.6 L176.0 295.9 L177.0 295.6 L178.0 296.5 L179.0 296.6 L180.0 296.8 L181.0 296.1 L182.0 295.0 L183.0 294.5 L184.0 296.1 L185.0 295.1 L186.0 295.8 L187.0 294.0 L188.0 295.8 L188.9 294.4 L189.8 295.5 L190.7 295.4 L191.6 294.4 L192.4 293.0 L193.3 295.1 L194.2 293.9 L195.1 294.7 L196.0 293.0 L197.0 292.4 L198.0 293.6 L199.0 292.1 L200.0 291.2 L200.8 290.9 L201.5 290.7 L202.2 288.5 L203.0 289.0 L203.2 288.0 L203.5 287.3 L203.8 285.5 L204.0 286.0 L204.2 285.3 L204.5 284.6 L204.8 282.5 L205.0 282.4 L205.1 280.9 L205.3 280.6 L205.4 278.5 L205.6 279.0 L205.7 278.2 L205.9 276.5 L206.0 275.7 L206.2 274.8 L206.3 273.9 L206.5 272.1 L206.6 272.8 L206.7 270.6 L206.9 269.7 L207.0 268.6 L207.1 268.0 L207.2 268.0 L207.4 265.8 L207.5 265.0 L207.6 265.0 L207.7 263.3 L207.9 262.1 L208.0 262.2 L208.2 261.2 L208.4 260.2 L208.6 259.7 L208.8 257.5 L209.0 258.2 L209.2 256.9 L209.4 254.5 L209.8 255.5 L210.2 257.3 L210.6 258.2 L211.0 258.4 L211.5 257.1 L211.9 256.8 L212.4 255.1 L213.2 257.2 L214.0 258.9 L214.2 258.2 L214.4 259.9 L214.5 261.1 L214.7 260.9 L214.9 263.1 L215.1 264.2 L215.2 264.0 L215.4 265.0 L215.6 266.6 L215.8 266.9 L215.9 267.6 L216.1 269.5 L216.2 270.1 L216.4 270.2 L216.5 270.9 L216.7 271.9 L216.8 273.0 L217.0 274.9 L217.2 275.6 L217.5 276.8 L217.7 277.6 L217.9 278.7 L218.2 278.1 L218.4 280.0 L219.2 281.6 L220.0 282.1 L220.8 279.4 L221.6 278.8 L221.9 280.3 L222.3 280.7 L222.7 282.1 L223.0 281.9 L223.5 283.6 L224.0 284.5 L224.5 284.1 L225.0 285.1 L226.0 287.7 L227.0 287.7 L227.5 287.1 L228.0 285.3 L228.5 284.8 L229.0 284.0 L229.4 283.0 L229.8 279.8 L230.2 280.4 L230.6 278.4 L231.0 278.4 L231.5 276.4 L231.9 276.1 L232.4 276.1 L233.2 274.3 L234.0 272.4 L234.3 272.0 L234.6 270.8 L235.0 271.0 L235.3 268.5 L235.6 267.5 L236.0 267.4 L236.3 265.1 L236.7 265.2 L237.0 265.1 L237.4 263.0 L237.9 263.4 L238.5 264.9 L239.0 266.1 L239.5 265.9 L240.0 266.6 L240.5 267.3 L241.0 268.5 L242.4 269.8 L242.6 268.6 L242.7 267.5 L242.9 266.3 L243.1 266.1 L243.3 265.6 L243.4 264.2 L243.6 263.1 L243.8 262.4 L244.1 260.6 L244.3 260.8 L244.5 259.4 L244.7 258.7 L244.9 258.0 L245.2 256.8 L245.4 255.5 L245.5 256.5 L245.6 257.4 L245.8 258.7 L245.9 259.4 L246.0 260.6 L246.1 260.6 L246.2 262.1 L246.4 263.8 L246.5 263.7 L246.6 265.1 L246.7 265.9 L246.8 266.6 L246.9 268.4 L247.0 268.5 L247.1 270.0 L247.2 270.2 L247.3 271.0 L247.3 273.0 L247.4 273.3 L247.5 273.8 L247.6 275.1 L247.7 276.1 L247.8 277.4 L247.9 277.6 L248.0 278.6 L248.1 280.7 L248.3 281.2 L248.4 281.1 L248.6 282.4 L248.7 283.3 L248.9 284.8 L249.0 285.6 L249.2 286.9 L249.3 287.7 L249.5 288.1 L249.6 289.5 L249.9 290.4 L250.2 291.3 L250.5 291.5 L250.7 293.1 L251.0 293.8 L251.3 295.1 L251.6 294.1 L252.4 296.6 L253.2 295.1 L254.0 297.7 L255.0 296.9 L256.0 296.3 L257.0 297.2 L257.9 295.5 L258.7 294.5 L259.6 294.7 L260.4 294.3 L261.2 292.9 L262.0 291.7 L263.0 292.6 L264.0 293.3 L265.0 294.2 L266.0 293.3 L267.0 293.7 L267.9 293.5 L268.7 292.4 L269.6 291.6 L270.1 291.9 L270.6 291.3 L271.0 289.6 L271.5 288.7 L272.0 287.2 L272.5 286.7 L273.0 285.5 L273.4 285.8 L273.9 285.0 L274.4 283.0 L275.0 285.7 L275.7 284.9 L276.4 286.8 L277.0 287.4 L277.9 287.2 L278.7 284.8 L279.6 284.8 L280.1 285.2 L280.6 282.2 L281.0 281.5 L281.5 282.0 L282.0 281.0 L282.6 282.8 L283.2 283.2 L283.8 283.3 L284.4 285.2 L284.8 285.0 L285.2 286.0 L285.6 287.5 L286.0 287.7 L286.4 288.6 L286.9 290.0 L287.4 290.2 L288.0 292.5 L288.5 292.6 L289.0 293.1 L289.7 291.2 L290.3 291.1 L291.0 290.4 L292.0 290.0 L293.0 289.2 L293.5 290.7 L294.0 291.7 L294.5 291.2 L295.0 291.9 L295.5 293.1 L296.0 294.7 L296.5 293.9 L297.0 295.1 L297.7 296.6 L298.3 295.8 L299.0 296.9 L299.6 297.9 L300.3 296.8 L301.0 295.3 L301.6 293.6 L302.8 296.0 L304.0 295.9 L304.8 295.7 L305.6 295.7 L306.4 295.0 L307.7 294.1 L309.0 293.7 L309.7 293.2 L310.3 292.9 L311.0 292.0 L311.5 290.5 L312.0 289.7 L312.5 290.1 L313.0 289.3 L313.2 287.7 L313.5 288.0 L313.7 286.3 L313.9 284.1 L314.2 283.8 L314.4 283.6 L314.6 281.6 L314.8 281.4 L315.0 279.0 L315.2 278.6 L315.4 278.7 L315.6 277.2 L315.9 276.4 L316.3 274.3 L316.6 274.0 L316.9 275.1 L317.2 275.5 L317.4 277.3 L317.7 278.1 L318.0 280.2 L318.7 280.2 L319.4 280.8 L319.8 279.1 L320.2 278.1 L320.6 278.6 L321.0 276.1 L321.1 275.4 L321.3 274.7 L321.4 274.3 L321.5 273.9 L321.6 272.6 L321.8 272.0 L321.9 269.9 L322.0 268.9 L322.1 269.3 L322.3 267.6 L322.4 267.3 L322.5 265.9 L322.6 264.7 L322.8 263.9 L322.9 262.8 L323.0 263.1 L323.1 261.7 L323.2 260.5 L323.4 259.7 L323.5 258.7 L323.6 257.2 L323.8 257.9 L324.0 256.3 L324.2 256.2 L324.4 254.2 L324.6 253.7 L324.8 253.8 L325.0 254.3 L325.2 257.0 L325.4 257.8 L325.6 257.7 L325.7 259.5 L325.8 260.3 L325.9 260.5 L326.0 261.8 L326.1 263.2 L326.2 263.5 L326.3 265.0 L326.4 265.0 L326.5 266.1 L326.6 267.5 L326.7 267.7 L326.8 268.7 L326.9 270.5 L327.0 270.8 L327.2 272.2 L327.3 272.2 L327.4 273.0 L327.5 274.2 L327.6 274.8 L327.8 276.9 L327.9 276.8 L328.0 278.1 L328.3 278.1 L328.6 280.1 L328.8 280.7 L329.1 281.8 L329.4 281.9 L330.2 282.9 L331.0 285.4 L331.8 283.4 L332.6 282.4 L333.1 281.2 L333.5 280.5 L333.9 279.3 L334.4 277.9 L334.7 278.4 L334.9 276.7 L335.2 275.3 L335.5 275.4 L335.7 273.1 L336.0 272.5 L336.2 272.8 L336.4 270.5 L336.5 270.2 L336.7 270.1 L336.9 269.1 L337.1 267.0 L337.2 266.5 L337.4 266.3 L337.6 264.8 L337.7 264.8 L337.9 262.7 L338.0 263.0 L338.1 261.4 L338.2 260.0 L338.4 259.5 L338.5 258.0 L338.6 258.1 L338.7 256.4 L338.9 256.6 L339.0 255.1 L339.1 253.9 L339.3 252.7 L339.4 252.5 L339.6 250.9 L339.7 251.1 L339.9 248.9 L340.0 248.7 L340.2 247.8 L340.3 246.4 L340.5 246.4 L340.6 244.8 L340.7 244.3 L340.9 243.3 L341.0 242.0 L341.1 241.2 L341.2 239.8 L341.4 239.0 L341.5 239.2 L341.6 237.4 L341.7 237.1 L341.9 235.3 L342.0 235.1 L342.1 233.9 L342.3 233.2 L342.4 232.0 L342.6 230.7 L342.7 230.2 L342.8 229.1 L343.0 228.1 L343.1 228.2 L343.3 226.5 L343.4 225.8 L343.7 225.5 L344.0 224.1 L344.1 225.0 L344.3 225.9 L344.4 225.6 L344.6 226.8 L344.8 227.3 L344.9 229.4 L345.1 230.3 L345.2 230.8 L345.3 231.8 L345.4 233.1 L345.5 234.0 L345.6 234.4 L345.7 236.1 L345.8 236.3 L345.8 237.6 L345.9 238.0 L346.0 238.8 L346.1 240.8 L346.2 241.5 L346.3 242.4 L346.4 242.4 L346.5 243.3 L346.6 244.4 L346.7 245.4 L346.8 246.4 L346.9 247.5 L347.0 247.9 L347.0 249.2 L347.1 250.6 L347.2 250.9 L347.3 252.7 L347.4 253.2 L347.5 254.4 L347.6 254.6 L347.7 255.8 L347.9 257.1 L348.0 257.5 L348.1 257.8 L348.2 260.1 L348.4 260.9 L348.5 261.0 L348.6 261.5 L348.7 263.8 L348.9 264.3 L349.0 264.1 L349.3 265.4 L349.6 266.1 L349.8 268.6 L350.1 268.4 L350.4 271.0 L351.0 271.6 L351.6 271.0 L352.0 271.5 L352.3 269.7 L352.6 269.6 L353.0 268.8 L353.2 268.6 L353.4 269.2 L353.6 271.9 L353.8 271.9 L354.0 273.9 L354.3 274.4 L354.5 275.5 L354.8 276.7 L355.1 277.3 L355.3 277.9 L355.6 278.1 L355.8 280.4 L356.1 280.9 L356.3 282.0 L356.5 283.9 L356.8 283.2 L357.0 285.6 L357.3 284.8 L357.6 287.2 L357.9 288.3 L358.1 287.9 L358.4 289.4 L358.7 291.2 L359.0 291.3 L359.5 291.9 L360.0 291.9 L360.5 292.1 L361.0 293.6 L362.0 293.4 L363.0 292.6 L364.0 292.5 L365.0 291.8 L366.0 292.9 L367.0 292.4 L367.5 290.3 L368.0 289.4 L368.5 289.0 L369.0 287.9 L369.2 287.8 L369.4 285.7 L369.6 284.6 L369.8 284.7 L370.0 282.3 L370.2 282.1 L370.4 280.7 L370.6 280.6 L370.8 279.1 L371.0 278.5 L371.2 276.4 L371.4 276.3 L371.6 275.2 L371.8 275.9 L372.1 277.6 L372.3 278.7 L372.6 278.2 L372.8 279.6 L373.0 280.7 L373.3 281.4 L373.5 282.1 L373.8 283.5 L374.0 284.2 L374.7 286.2 L375.3 286.2 L376.0 286.0 L377.0 286.7 L378.0 287.2 L379.0 287.1 L380.0 287.0 L381.0 287.1 L382.0 287.4 L382.8 290.4 L383.5 290.4 L384.2 289.4 L385.0 291.5 L385.8 292.7 L386.5 292.2 L387.2 291.5 L388.0 293.0 L388.8 293.4 L389.5 293.4 L390.2 294.9 L391.0 294.2 L392.0 296.8 L393.0 296.6 L394.0 296.9 L395.0 297.8 L396.0 297.2 L397.0 296.3 L398.0 296.4 L399.0 296.0 L400.0 295.6 L401.0 297.4 L402.0 297.4 L403.0 296.3 L404.0 296.2 L405.0 297.5 L406.0 298.3 L407.0 298.5 L408.0 296.6 L409.0 298.1 L410.0 298.2 L411.0 297.9 L412.0 296.7 L413.0 296.2 L414.0 297.3 L415.0 295.5 L416.0 295.1 L417.0 295.2 L418.0 294.4 L419.0 295.2 L420.0 293.3 L421.0 292.4 L422.0 293.2 L423.0 292.8 L424.0 292.8 L425.0 292.5 L426.0 293.0 L427.0 293.1 L428.0 292.0 L429.0 292.3 L430.0 291.8 L431.0 292.5 L432.0 293.6 L433.0 292.3 L434.0 293.7 L435.0 292.3 L436.0 292.9 L437.0 293.8 L438.0 291.3 L439.0 290.8 L439.8 292.3 L440.5 292.2 L441.2 294.1 L442.0 292.8 L443.0 294.4 L444.0 293.9 L445.0 293.7 L446.0 292.8 L447.0 292.5 L448.0 293.4 L449.0 292.7 L450.0 292.1 L451.0 291.5 L452.0 291.4 L453.0 292.4 L454.0 293.1 L455.0 293.7 L456.0 292.2 L457.0 293.0 L458.0 293.9 L459.0 294.7 L460.0 294.6 L461.0 294.0 L462.0 293.5 L463.0 293.8 L464.0 293.9 L465.0 294.7 L466.0 294.0 L467.0 293.4 L468.0 293.2 L469.0 293.1 L470.0 292.1 L471.0 292.5 L472.0 290.5 L473.0 291.9 L474.0 291.6 L475.0 290.6 L476.0 291.2 L477.0 292.0 L478.0 290.7 L479.0 290.9 L480.0 289.9 L481.0 289.9 L482.0 291.2 L483.0 288.9 L484.0 289.2 L485.0 290.8 L486.0 290.7 L487.0 290.2 L488.0 292.0 L489.0 291.1 L490.0 291.4 L491.0 290.8 L491.6 290.3 L492.3 289.7 L493.0 288.5 L493.6 287.0 L494.1 286.2 L494.6 287.0 L495.1 285.1 L495.6 283.0 L497.0 283.9 L497.5 283.4 L497.9 284.0 L498.4 286.1 L498.7 286.4 L499.0 288.0 L499.4 289.1 L499.7 289.4 L500.0 291.2 L500.6 290.9 L501.2 292.7 L501.8 293.8 L502.4 293.4 L503.3 294.3 L504.2 293.6 L505.1 294.7 L506.0 295.9 L507.0 294.9 L508.0 295.0 L509.0 294.9 L510.0 293.0 L511.0 295.1 L512.0 294.4 L513.0 292.7 L514.0 294.4 L515.0 293.2 L516.0 292.5 L517.0 294.3 L518.0 293.2 L519.0 293.8 L520.0 292.4 L521.0 294.1 L522.0 292.5 L523.0 293.0 L524.0 293.5 L525.0 292.7 L526.0 294.2" stroke="#ff6666" stroke-width="2.8" fill="none" stroke-linejoin="bevel" stroke-linecap="butt"/>
<path d="M46.6 218.4 L48.0 220.0 L50.0 223.0 L54.0 223.0 L58.0 225.0 L62.0 227.0 L66.0 226.6 L70.0 223.0 L72.0 225.0 L75.0 228.0 L79.0 223.6 L81.0 217.0 L82.4 211.0 L84.4 218.0 L87.0 225.0 L90.0 220.0 L92.4 210.0 L94.0 194.0 L95.0 189.0 L97.0 191.0 L98.4 178.0 L99.1 170.0 L99.8 140.0 L100.7 95.0 L101.5 50.0 L102.3 15.0 L103.0 50.0 L103.6 95.0 L103.8 140.0 L103.9 170.0 L104.0 190.0 L104.6 206.0 L105.9 213.5 L107.0 200.0 L107.8 182.0 L109.4 136.8 L110.2 160.0 L110.8 182.0 L112.0 206.0 L113.0 213.0 L114.0 211.0 L115.6 218.0 L117.0 222.0 L119.0 221.0 L121.0 226.0 L122.4 230.0 L125.0 227.0 L128.0 226.0 L131.0 225.0 L134.0 227.0 L137.0 225.0 L140.0 224.0 L142.0 218.0 L144.0 200.0 L145.6 170.0 L146.4 140.0 L147.0 85.6 L148.0 115.0 L148.4 140.0 L148.8 170.0 L149.0 200.0 L149.2 224.0 L150.0 232.0 L151.6 227.0 L155.0 227.0 L157.0 216.0 L158.4 204.0 L159.4 200.0 L160.6 206.0 L162.0 220.0 L164.0 228.0 L167.0 230.0 L170.0 231.0 L173.0 228.0 L175.0 230.4 L177.0 228.0 L179.0 229.6 L182.0 228.0 L185.0 225.0 L186.4 218.0 L188.0 212.0 L189.6 216.0 L191.0 221.0 L192.4 218.0 L194.0 221.0 L196.0 217.0 L198.0 212.0 L200.0 202.0 L201.0 188.0 L202.0 160.0 L202.6 140.0 L203.2 124.0 L204.2 130.0 L205.0 140.0 L205.2 170.0 L205.6 200.0 L206.4 214.0 L207.6 218.0 L209.0 214.0 L211.0 210.0 L212.6 208.0 L214.0 214.0 L215.6 222.0 L217.6 220.0 L220.0 216.0 L222.0 208.0 L223.6 190.0 L224.6 170.0 L225.6 140.0 L226.2 100.0 L227.0 63.6 L228.0 100.0 L229.0 140.0 L229.4 160.0 L230.0 180.0 L231.0 200.0 L232.0 212.0 L233.6 217.0 L236.0 218.4 L239.0 217.0 L240.6 208.0 L241.6 190.0 L242.6 170.0 L243.6 155.6 L245.0 170.0 L245.6 190.0 L246.4 210.0 L247.6 220.0 L248.4 222.4 L250.0 219.0 L251.6 215.6 L253.6 217.6 L255.6 215.6 L257.6 217.0 L259.6 217.0 L261.0 212.0 L262.0 200.0 L263.0 182.0 L264.0 172.0 L264.6 170.0 L265.6 174.0 L267.0 186.0 L268.4 198.0 L270.0 210.0 L272.0 220.0 L274.0 223.0 L276.0 224.0 L277.6 222.0 L279.0 225.0 L280.4 226.4 L282.0 223.0 L284.0 223.6 L286.0 220.4 L287.6 220.0 L289.0 222.4 L291.0 223.0 L293.0 221.0 L295.0 221.6 L297.0 223.6 L298.6 220.0 L300.0 215.0 L301.4 211.6 L302.6 215.0 L304.0 213.0 L305.4 209.0 L306.6 214.0 L308.0 220.0 L309.6 222.0 L311.6 221.0 L314.0 222.4 L316.0 221.6 L317.6 217.0 L318.6 208.0 L319.6 192.0 L320.6 172.0 L321.6 160.0 L322.4 155.6 L323.4 160.0 L324.2 174.0 L325.2 190.0 L326.4 202.0 L327.6 210.0 L329.0 217.0 L330.4 216.0 L331.6 214.4 L333.0 218.0 L334.4 221.0 L336.0 223.0 L338.0 221.0 L340.0 221.6 L343.0 221.0 L346.0 219.6 L349.0 218.0 L350.4 212.0 L351.6 200.0 L352.6 186.0 L353.6 178.0 L354.0 177.0 L355.0 184.0 L356.0 196.0 L357.0 206.0 L358.4 216.0 L360.0 225.0 L361.6 222.0 L363.6 217.0 L365.4 213.6 L367.0 217.0 L369.0 221.0 L371.0 224.4 L373.0 223.0 L375.0 227.0 L377.0 229.0 L379.0 227.0 L381.0 224.0 L382.0 223.0 L383.6 227.0 L386.0 230.0 L389.0 231.6 L392.0 232.4 L395.0 233.6 L397.6 235.0 L399.0 232.4 L401.0 234.4 L404.0 233.0 L407.0 231.0 L409.6 228.0 L411.6 225.6 L413.2 222.0 L414.4 212.0 L415.4 204.0 L416.4 212.0 L417.6 224.0 L419.0 230.0 L421.0 231.0 L423.0 229.6 L425.0 231.0 L427.0 233.0 L429.0 234.0 L431.0 230.0 L432.4 222.0 L433.6 212.0 L434.4 210.0 L435.6 216.0 L437.0 225.0 L438.4 228.0 L440.0 225.0 L441.4 220.0 L442.6 224.0 L444.0 229.0 L447.0 232.0 L450.0 231.0 L453.0 233.0 L456.0 234.0 L459.0 233.0 L461.0 235.0 L463.0 233.0 L465.0 235.0 L467.0 236.0 L469.6 232.0 L472.0 233.0 L474.0 235.0 L476.0 239.0 L478.0 240.0 L480.0 237.0 L482.0 233.0 L483.6 234.0 L485.6 237.0 L488.0 239.0 L491.0 241.0 L494.0 241.0 L497.0 241.6 L500.0 242.0 L503.0 241.6 L505.6 239.0 L508.0 236.0 L510.0 235.0 L512.0 238.0 L514.0 238.0 L516.0 236.4 L519.0 237.6 L522.6 238.0" stroke="#ff00ff" stroke-width="2.7" fill="none" stroke-linejoin="round" stroke-linecap="round"/>
<rect x="48.2" y="10.3" width="475.8" height="383.5" fill="none" stroke="#0a0a0a" stroke-width="1.9"/>
<text x="521.6" y="199.5" text-anchor="end" font-family="'Liberation Sans', sans-serif" font-size="23.2" fill="#ff00ff">Cu@Fe-MOF</text>
<text x="520.6" y="276.6" text-anchor="end" font-family="'Liberation Sans', sans-serif" font-size="23.4" fill="#ff8c00">Cu-MOF</text>
<text x="519" y="331.2" text-anchor="end" font-family="'Liberation Sans', sans-serif" font-size="23.4" fill="#0000ff">Fe-MOF</text>
<text x="411.5" y="371" textLength="108" lengthAdjust="spacingAndGlyphs" font-family="'Liberation Sans', sans-serif" font-size="23" fill="#ff0000">simulated</text>
<text x="115.8" y="431.2" text-anchor="middle" font-family="'Liberation Sans', sans-serif" font-size="33" fill="#000">10</text>
<text x="251.7" y="431.2" text-anchor="middle" font-family="'Liberation Sans', sans-serif" font-size="33" fill="#000">20</text>
<text x="387.7" y="431.2" text-anchor="middle" font-family="'Liberation Sans', sans-serif" font-size="33" fill="#000">30</text>
<text x="523.6" y="431.2" text-anchor="middle" font-family="'Liberation Sans', sans-serif" font-size="33" fill="#000">40</text>
<text x="204.6" y="470.8" font-family="'Liberation Sans', sans-serif" font-size="31.8" font-style="italic" fill="#000">2</text>
<text transform="translate(223.2 470.8) scale(1.22 1)" font-family="'Liberation Serif', 'DejaVu Serif', serif" font-style="italic" font-size="32" fill="#000">θ</text>
<text x="246.9" y="470.8" font-family="'Liberation Sans', sans-serif" font-size="31.8" letter-spacing="0.3" fill="#000">(degree)</text>
<text transform="translate(33.1 287.7) rotate(-90)" font-family="'Liberation Sans', sans-serif" font-size="26.9" word-spacing="2.2" fill="#000">Intensity (a.u.)</text>
</svg>
</body></html>
